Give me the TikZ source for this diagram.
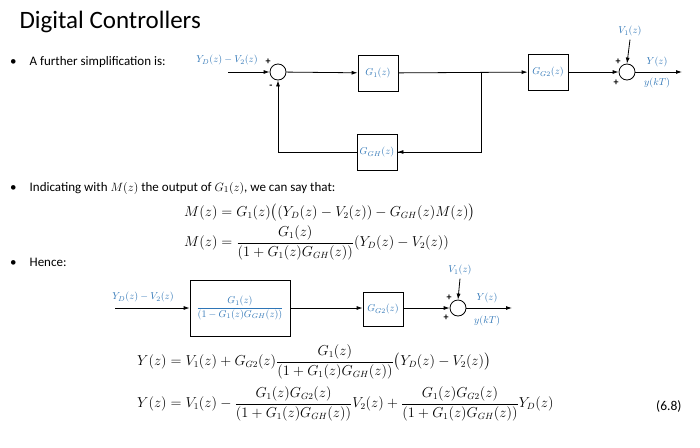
\documentclass[tikz,border=0pt]{standalone}
\usepackage{fontspec}
\usepackage{amsmath}
\setmainfont{Carlito}
\usetikzlibrary{arrows.meta}
\definecolor{lblue}{RGB}{46,117,182}
\begin{document}
\begin{tikzpicture}[x=1pt,y=-1pt,
  blk/.style={draw,thick,minimum width=40pt,minimum height=36pt,inner sep=1pt,font=\fontsize{10}{11}\selectfont\color{lblue}},
  sum/.style={draw,thick,circle,minimum size=16pt,inner sep=0},
  arr/.style={thick,-{Latex[length=6pt,width=4pt]}},
  ln/.style={thick},
  lab/.style={font=\fontsize{10}{11}\selectfont\color{lblue}},
  sg/.style={font=\fontsize{10}{10}\selectfont\bfseries,inner sep=0},
  txt/.style={anchor=west,inner sep=1pt,font=\fontsize{13}{15}\selectfont},
  eq/.style={anchor=west,inner sep=1pt,font=\fontsize{13.5}{16}\selectfont}]
\useasboundingbox (0,0) rectangle (700,447);
\node[anchor=west,font=\fontsize{25}{28}\selectfont] (title) at (16,22) {Digital Controllers};
\node[txt] (b1) at (9,62) {\textbullet\quad A further simplification is:};
% top diagram
\node[lab] (in1) at (227,60) {$Y_D(z)-V_2(z)$};
\coordinate (in1s) at (228,72);
\node[sum] (s1) at (278,72) {};
\node[blk] (g1) at (378,73) {$G_1(z)$};
\node[blk] (gg2) at (548,72) {$G_{G2}(z)$};
\node[blk] (ggh) at (377,152) {$G_{GH}(z)$};
\coordinate (br) at (481,72);
\node[sum] (s2) at (627,72) {};
\node[lab] (v1) at (630,31) {$V_1(z)$};
\coordinate (out1) at (682,72);
\node[lab] (y1) at (657,62) {$Y(z)$};
\node[lab] (yk1) at (657,83) {$y(kT)$};
\draw[arr] (in1s) -- (s1);
\draw[arr] (s1) -- (g1);
\draw[arr] (g1) -- (gg2);
\draw[ln] (br) |- (ggh.east) ;
\draw[arr] (br |- ggh.east) -- (ggh.east);
\draw[arr] (ggh.west) -| (s1.south);
\draw[arr] (gg2) -- (s2);
\draw[arr] (v1.south) -- (s2.north);
\draw[arr] (s2) -- (out1);
\node[sg] at (268,62) {+};
\node[sg] at (271,87) {-};
\node[sg] at (618,62) {+};
\node[sg] at (616,83) {+};
% text
\node[txt] (b2) at (9,188) {\textbullet\quad Indicating with $M(z)$ the output of $G_1(z)$, we can say that:};
\node[eq] (e1) at (183,213) {$M(z)=G_1(z)\big((Y_D(z)-V_2(z))-G_{GH}(z)M(z)\big)$};
\node[eq] (e2) at (183,243) {$M(z)=\dfrac{G_1(z)}{(1+G_1(z)G_{GH}(z))}(Y_D(z)-V_2(z))$};
\node[txt] (b3) at (9,262) {\textbullet\quad Hence:};
% bottom diagram
\node[lab] (in2) at (143,297) {$Y_D(z)-V_2(z)$};
\coordinate (in2s) at (115,308);
\node[blk,minimum width=100pt,minimum height=56pt] (big) at (240,308) {$\dfrac{G_1(z)}{(1-G_1(z)G_{GH}(z))}$};
\node[blk,minimum height=34pt] (gg2b) at (383,309) {$G_{G2}(z)$};
\node[sum] (s3) at (458,308) {};
\node[lab] (v1b) at (460,270) {$V_1(z)$};
\coordinate (out2) at (512,308);
\node[lab] (y2) at (487,298) {$Y(z)$};
\node[lab] (yk2) at (487,321) {$y(kT)$};
\draw[arr] (in2s) -- (big);
\draw[arr] (big) -- (gg2b.west |- big);
\draw[arr] (gg2b.east |- s3) -- (s3);
\draw[arr] (v1b.south) -- (s3.north);
\draw[arr] (s3) -- (out2);
\node[sg] at (449,298) {+};
\node[sg] at (446,318) {+};
% equations
\node[eq] (e3) at (136,362) {$Y(z)=V_1(z)+G_{G2}(z)\dfrac{G_1(z)}{(1+G_1(z)G_{GH}(z))}\big(Y_D(z)-V_2(z)\big)$};
\node[eq] (e4) at (136,404) {$Y(z)=V_1(z)-\dfrac{G_1(z)G_{G2}(z)}{(1+G_1(z)G_{GH}(z))}V_2(z)+\dfrac{G_1(z)G_{G2}(z)}{(1+G_1(z)G_{GH}(z))}Y_D(z)$};
\node[eq] (n68) at (655,406) {(6.8)};
\end{tikzpicture}
\end{document}
